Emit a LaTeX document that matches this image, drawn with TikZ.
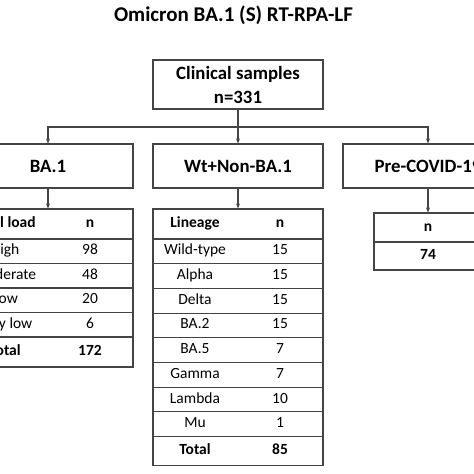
\documentclass[tikz,border=0pt]{standalone}
\usepackage{fontspec}
\setmainfont{Carlito}
\usepackage{tikz}
\usetikzlibrary{calc,arrows.meta}
\usepackage{xcolor}
\definecolor{boxline}{HTML}{444444}
\newcommand{\lcol}{-43}
\newcommand{\rcol}{42}
\newcommand{\tabrow}[6]{\node[cell,minimum height=#4pt] (#1) at (#2,#3+0.5*#4) {};
	\node[celltext] (#1-l) at ($(#1.center)+(\lcol,0)$) {#5};
	\node[celltext] (#1-r) at ($(#1.center)+(\rcol,0)$) {#6};}

\begin{document}
\begin{tikzpicture}[x=1pt,y=-1pt,font=\fontsize{15.5}{18}\selectfont,
		box/.style={draw=boxline,line width=1.1pt,minimum width=170pt,minimum height=44pt,inner sep=0pt,align=center,font=\fontsize{18.8}{24}\selectfont\bfseries},
		cell/.style={draw=boxline,line width=1.1pt,minimum width=170pt,inner sep=0pt,text height=10.5pt,text depth=3.5pt},
		celltext/.style={inner sep=0pt,text height=10.5pt,text depth=3.5pt},
		link/.style={draw=boxline,line width=1.1pt},
		arrow/.style={link,-{Stealth[length=5pt,width=4pt]}}]
		
		\useasboundingbox (0,0) rectangle (474,474);
		\clip (0,0) rectangle (474,474);
		
		\node[font=\fontsize{21}{25}\selectfont\bfseries] (title) at (233.5,15) {Omicron BA.1 (S) RT-RPA-LF};
		
		\node[box,minimum height=49pt] (clin) at (238,84.5) {Clinical samples\\n=331};
		
		\node[box] (ba1) at (48,166) {BA.1};
		\node[box] (wt) at (238,166) {Wt+Non-BA.1};
		\node[box] (pre) at (428,166) {Pre-COVID-19};
		
		\coordinate (split) at (238,127);
		\draw[link] (clin.south) -- (split);
		\draw[arrow] (split) -| (ba1.north);
		\draw[arrow] (split) -- (wt.north);
		\draw[arrow] (split) -| (pre.north);
		
		% BA.1 table
		\tabrow{ba0}{48}{209}{30}{\bfseries Viral load}{\bfseries n}
		\tabrow{ba1r}{48}{239}{24.5}{High}{98}
		\tabrow{ba2r}{48}{263.5}{24.5}{Moderate}{48}
		\tabrow{ba3r}{48}{288}{24.5}{Low}{20}
		\tabrow{ba4r}{48}{312.5}{24.5}{Very low}{6}
		\tabrow{bat}{48}{337}{30}{\bfseries Total}{\bfseries 172}
		
		% Wt+Non-BA.1 table
		\tabrow{wt0}{238}{209}{30}{\bfseries Lineage}{\bfseries n}
		\tabrow{wt1}{238}{239}{24.7}{Wild-type}{15}
		\tabrow{wt2}{238}{263.7}{24.7}{Alpha}{15}
		\tabrow{wt3}{238}{288.4}{24.7}{Delta}{15}
		\tabrow{wt4}{238}{313.1}{24.7}{BA.2}{15}
		\tabrow{wt5}{238}{337.8}{24.7}{BA.5}{7}
		\tabrow{wt6}{238}{362.5}{24.7}{Gamma}{7}
		\tabrow{wt7}{238}{387.2}{24.7}{Lambda}{10}
		\tabrow{wt8}{238}{411.9}{24.7}{Mu}{1}
		\tabrow{wtt}{238}{436.6}{29}{\bfseries Total}{\bfseries 85}
		
		% Pre-COVID-19 table
		\node[cell,minimum width=108pt,minimum height=29pt] (pre0) at (428,227.5) {\bfseries n};
		\node[cell,minimum width=108pt,minimum height=28pt] (pre1) at (428,256) {\bfseries 74};
		
		\draw[arrow] (ba1.south) -- (ba0.north);
		\draw[arrow] (wt.south) -- (wt0.north);
		\draw[arrow] (pre.south) -- (pre0.north);
		
	\end{tikzpicture}
\end{document}
